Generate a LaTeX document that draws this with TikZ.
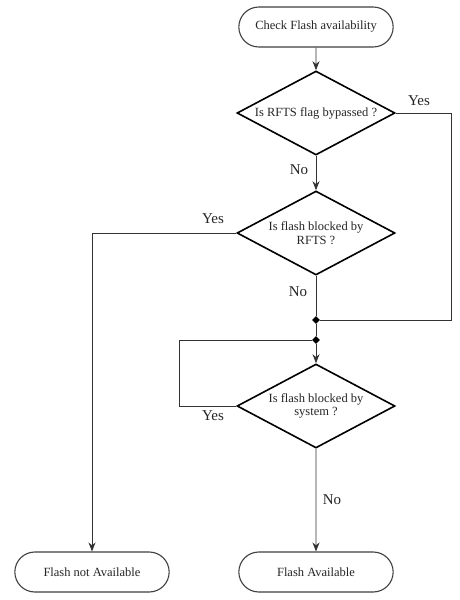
\documentclass[tikz,border=0pt]{standalone}
\usepackage{fontspec}
\setmainfont{Liberation Serif}
\usetikzlibrary{shapes.geometric,shapes.misc,arrows.meta}

\begin{document}
\begin{tikzpicture}[x=1pt,y=-1pt,
			term/.style={draw=black!75,line width=1.1pt,rounded rectangle,minimum width=161pt,minimum height=40pt,font=\fontsize{12.5}{13.5}\selectfont,text=black!85},
			decide/.style={draw,line width=1.6pt,diamond,aspect=1.88,minimum width=158pt,minimum height=84pt,inner sep=1pt,align=center,font=\fontsize{12.5}{13.5}\selectfont,text=black!85},
			link/.style={draw=black!80,line width=0.8pt},
			arr/.style={link,-{Stealth[length=9pt,width=7pt]}},
			lbl/.style={font=\fontsize{15}{17}\selectfont,text=black!85},
			dot/.style={diamond,fill=black,inner sep=0pt,minimum size=8pt}]
			\useasboundingbox[fill=white] (0,0) rectangle (460,600);
			% boxes
			\node[term] (check) at (316,27) {Check Flash availability};
			\node[decide] (bypass) at (316,113) {Is RFTS flag bypassed ?};
			\node[decide] (rfts) at (316,233) {Is flash blocked by\\RFTS ?};
			\node[decide] (system) at (316,406) {Is flash blocked by\\system ?};
			\node[term] (notavail) at (92,572) {Flash not Available};
			\node[term] (avail) at (316,572) {Flash Available};
			\node[dot] (merge) at (316,320) {};
			\node[dot] (loop) at (316,340) {};
			% connectors
			\draw[arr] (check) -- (bypass);
			\draw[arr] (bypass) -- (rfts);
			\draw[link] (bypass.east) -- ++(56,0) |- (merge);
			\draw[link] (rfts) -- (merge);
			\draw[link] (merge) -- (loop);
			\draw[arr] (loop) -- (system);
			\draw[link] (system.west) -- ++(-57,0) |- (loop);
			\draw[arr] (rfts.west) -| (notavail);
			\draw[arr] (system) -- (avail);
			% labels
			\node[lbl] (yes1) at (419,101) {Yes};
			\node[lbl] (no1) at (299,170) {No};
			\node[lbl] (yes2) at (213,219) {Yes};
			\node[lbl] (no2) at (298,292) {No};
			\node[lbl] (yes3) at (213,416) {Yes};
			\node[lbl] (no3) at (332,500) {No};
		\end{tikzpicture}
\end{document}
